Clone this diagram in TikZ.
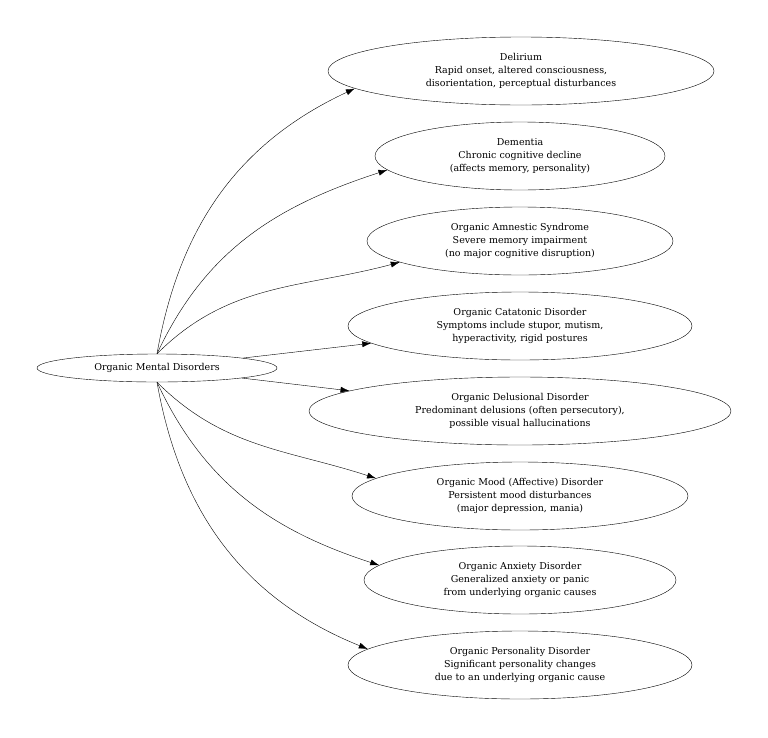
\documentclass[tikz,border=0pt]{standalone}
\usepackage{fontspec}
\setmainfont{DejaVu Serif}
\usetikzlibrary{shapes.geometric,arrows.meta}
\begin{document}
\begin{tikzpicture}[x=1pt,y=-1pt,
  box/.style={ellipse, draw, inner sep=0pt, align=center, font=\fontsize{9.5}{13}\selectfont},
  link/.style={-{Latex[length=9pt,width=6pt]}}]
  \useasboundingbox (0,0) rectangle (768,737);
  \node[box, minimum width=240, minimum height=28] (root) at (157,368) {Organic Mental Disorders};
  \node[box, minimum width=386, minimum height=68] (deli) at (521,71) {Delirium\\Rapid onset, altered consciousness,\\disorientation, perceptual disturbances};
  \node[box, minimum width=290, minimum height=68] (deme) at (520,156) {Dementia\\Chronic cognitive decline\\(affects memory, personality)};
  \node[box, minimum width=306, minimum height=68] (amne) at (520,241) {Organic Amnestic Syndrome\\Severe memory impairment\\(no major cognitive disruption)};
  \node[box, minimum width=344, minimum height=68] (cata) at (520,326) {Organic Catatonic Disorder\\Symptoms include stupor, mutism,\\hyperactivity, rigid postures};
  \node[box, minimum width=422, minimum height=68] (delu) at (520,411) {Organic Delusional Disorder\\Predominant delusions (often persecutory),\\possible visual hallucinations};
  \node[box, minimum width=336, minimum height=68] (mood) at (520,496) {Organic Mood (Affective) Disorder\\Persistent mood disturbances\\(major depression, mania)};
  \node[box, minimum width=312, minimum height=68] (anxi) at (520,580) {Organic Anxiety Disorder\\Generalized anxiety or panic\\from underlying organic causes};
  \node[box, minimum width=344, minimum height=68] (pers) at (520,665) {Organic Personality Disorder\\Significant personality changes\\due to an underlying organic cause};
  \draw[link] (root.north) to[out=80, in=205] (deli.186);
  \draw[link] (root.north) to[out=65, in=198] (deme.186);
  \draw[link] (root.north) to[out=45, in=195] (amne.190);
  \draw[link] (root) -- (cata);
  \draw[link] (root) -- (delu);
  \draw[link] (root.south) to[out=-45, in=162] (mood.173);
  \draw[link] (root.south) to[out=-65, in=162] (anxi.174);
  \draw[link] (root.south) to[out=-80, in=158] (pers.174);
\end{tikzpicture}
\end{document}
